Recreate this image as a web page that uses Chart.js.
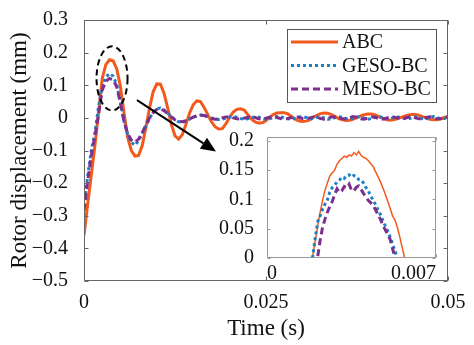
<!DOCTYPE html>
<html>
<head>
<meta charset="utf-8">
<script src="https://cdn.jsdelivr.net/npm/chart.js@4.4.1/dist/chart.umd.min.js"></script>
<style>
  html, body { margin: 0; padding: 0; background: #fff; }
  #wrap { position: relative; width: 474px; height: 345px; }
  #mainChart { position: absolute; left: 0; top: 0; }
  #zoomChart { position: absolute; left: 200px; top: 120px; }
</style>
</head>
<body>
<div id="wrap">
  <canvas id="mainChart" width="474" height="345"></canvas>
  <canvas id="zoomChart" width="245" height="165"></canvas>
</div>
<script>
var seriesNames = ["ABC", "GESO-BC", "MESO-BC"];
var colors = ["#f25a1d", "#1b7fc4", "#7e2f8e"];

// full run, one sample every 0.5 ms from t = 0 to 0.05 s
var dt = 0.0005;
var abc = [
  -0.360, -0.265, -0.175, -0.085, 0.015, 0.120, 0.163, 0.178, 0.175, 0.150,
  0.097, 0.015, -0.060, -0.100, -0.117, -0.115, -0.085, -0.030, 0.030, 0.080,
  0.104, 0.103, 0.075, 0.030, -0.020, -0.055, -0.065, -0.052, -0.020, 0.015,
  0.040, 0.052, 0.050, 0.032,
  0.010, -0.012, -0.027, -0.034, -0.033, -0.018, 0.002, 0.018, 0.026, 0.028,
  0.024, 0.010, -0.004, -0.012, -0.016, -0.015, -0.008, 0.002, 0.010, 0.015,
  0.016, 0.016, 0.012, 0.004, -0.004, -0.009, -0.011, -0.010, -0.006, 0.002,
  0.008, 0.013, 0.015, 0.014, 0.010, 0.004, -0.002, -0.006, -0.008, -0.007,
  -0.004, 0.001, 0.006, 0.010, 0.012, 0.012, 0.009, 0.004, -0.001, -0.005,
  -0.007, -0.006, -0.003, 0.001, 0.005, 0.008, 0.010, 0.010, 0.008, 0.004,
  0.000, -0.004, -0.006, -0.006, -0.003, 0.001, 0.004
];
var geso = [
  -0.270, -0.180, -0.100, -0.045, 0.035, 0.094, 0.125, 0.136, 0.128, 0.102,
  0.050, -0.010, -0.050, -0.075, -0.084, -0.070, -0.048, -0.025, -0.002, 0.018,
  0.028, 0.030, 0.024, 0.015, 0.004, -0.006, -0.012, -0.013, -0.010, -0.004,
  0.002, 0.007, 0.009, 0.008, 0.004,
  0.000, -0.003, -0.005, -0.004, -0.001, 0.002, 0.004, 0.002, -0.002, -0.004,
  -0.003, 0.001, 0.003, 0.002, -0.002, -0.005, -0.003, 0.001, 0.004, 0.003,
  0.000, -0.003, -0.004, -0.001, 0.002, 0.004, 0.001, -0.003, -0.002, 0.002,
  0.003, 0.000, -0.004, -0.003, 0.001, 0.004, 0.002, -0.002, -0.004, -0.001,
  0.003, 0.003, -0.001, -0.004, -0.002, 0.002, 0.004, 0.001, -0.003, -0.003,
  0.001, 0.003, 0.002, -0.002, -0.004, 0.000, 0.003, 0.002, -0.003, -0.003,
  0.001, 0.004, 0.001, -0.003, -0.002, 0.002
];
var meso = [
  -0.285, -0.195, -0.115, -0.055, 0.010, 0.085, 0.112, 0.121, 0.117, 0.095,
  0.045, -0.012, -0.048, -0.068, -0.075, -0.065, -0.045, -0.022, 0.000, 0.016,
  0.026, 0.028, 0.022, 0.013, 0.003, -0.006, -0.011, -0.012, -0.009, -0.003,
  0.002, 0.006, 0.008, 0.007, 0.003,
  -0.002, -0.004, -0.003, 0.000, 0.003, 0.003, 0.000, -0.003, -0.004, -0.001,
  0.002, 0.003, 0.001, -0.003, -0.004, -0.001, 0.002, 0.004, 0.001, -0.002,
  -0.004, -0.002, 0.001, 0.003, 0.002, -0.002, -0.003, 0.000, 0.003, 0.002,
  -0.002, -0.004, -0.001, 0.003, 0.003, 0.000, -0.003, -0.003, 0.001, 0.004,
  0.001, -0.003, -0.004, 0.000, 0.003, 0.002, -0.002, -0.004, -0.001, 0.002,
  0.003, 0.000, -0.003, -0.002, 0.002, 0.004, 0.000, -0.003, -0.002, 0.001,
  0.003, 0.001, -0.003, -0.003, 0.001, 0.003
];

// first peak at 0.1 ms resolution, t = 1.7 ms .. 5.8 ms
var zoomT0 = 0.0017;
var zoomDt = 0.0001;
var abcZoom = [
  -0.020, -0.005, 0.005, 0.030, 0.055, 0.078, 0.098, 0.115, 0.128, 0.140,
  0.145, 0.150, 0.160, 0.166, 0.170, 0.174, 0.172, 0.176, 0.174, 0.180,
  0.176, 0.182, 0.175, 0.172, 0.170, 0.166, 0.161, 0.156, 0.147, 0.139,
  0.130, 0.120, 0.109, 0.097, 0.085, 0.072, 0.065, 0.052, 0.036, 0.018,
  0.000, -0.015
];
var gesoZoom = [
  -0.030, -0.012, 0.004, 0.035, 0.062, 0.072, 0.083, 0.092, 0.099, 0.112,
  0.120, 0.124, 0.130, 0.133, 0.138, 0.136, 0.141, 0.142, 0.138, 0.141,
  0.139, 0.134, 0.133, 0.128, 0.120, 0.114, 0.106, 0.098, 0.091, 0.082,
  0.074, 0.064, 0.055, 0.046, 0.036, 0.024, 0.012, 0.000, -0.012, -0.022,
  -0.032, -0.042
];
var mesoZoom = [
  -0.070, -0.050, -0.032, -0.015, 0.002, 0.030, 0.052, 0.066, 0.078, 0.088,
  0.096, 0.108, 0.118, 0.112, 0.115, 0.122, 0.120, 0.126, 0.116, 0.114,
  0.121, 0.123, 0.117, 0.110, 0.104, 0.098, 0.094, 0.090, 0.082, 0.074,
  0.066, 0.056, 0.048, 0.040, 0.032, 0.016, 0.002, -0.012, -0.024, -0.034,
  -0.044, -0.054
];

var zoomXTicks = [0, 0.007];

// dashed ellipse round the first peak and the arrow towards the zoom box (data units)
var ring = { x: 0.00385, y: 0.121, rx: 0.00213, ry: 0.0985 };
var arrow = { x0: 0.00728, y0: 0.0545, x1: 0.01813, y1: -0.103 };

var serif = "'Liberation Serif', 'Times New Roman', serif";
Chart.defaults.font.family = serif;
Chart.defaults.color = "#111";

function fmt(v) {
  return String(+v.toFixed(4)).replace("-", "\u2212");
}

function toPoints(arr, t0, step) {
  return arr.map(function (v, i) {
    return { x: +(t0 + i * step).toFixed(5), y: v };
  });
}

var dashes = [[], [3, 3], [7, 4]];

function makeSets(lists, t0, step, firstWidth) {
  return lists.map(function (arr, k) {
    return {
      label: seriesNames[k],
      data: toPoints(arr, t0, step),
      borderColor: colors[k],
      borderWidth: k === 0 ? firstWidth : 3,
      borderDash: dashes[k],
      borderCapStyle: "butt",
      pointRadius: 0,
      tension: 0,
      order: 3 - k
    };
  });
}

// box round the plot with inward tick marks on all four sides
function framePlugin(tickLen, color) {
  return {
    id: "frame",
    beforeDraw: function (chart) {
      var a = chart.chartArea, ctx = chart.ctx;
      ctx.save();
      ctx.fillStyle = "#fff";
      ctx.fillRect(a.left, a.top, a.right - a.left, a.bottom - a.top);
      ctx.restore();
    },
    afterDatasetsDraw: function (chart) {
      var ctx = chart.ctx, a = chart.chartArea;
      var sx = chart.scales.x, sy = chart.scales.y;
      var l = Math.round(a.left) + 0.5, r = Math.round(a.right) - 0.5;
      var t = Math.round(a.top) + 0.5, b = Math.round(a.bottom) - 0.5;
      ctx.save();
      ctx.strokeStyle = color;
      ctx.lineWidth = 1;
      ctx.setLineDash([]);
      ctx.strokeRect(l, t, r - l, b - t);
      ctx.beginPath();
      sx.ticks.forEach(function (tk) {
        var px = Math.round(sx.getPixelForValue(tk.value)) + 0.5;
        ctx.moveTo(px, b); ctx.lineTo(px, b - tickLen);
        ctx.moveTo(px, t); ctx.lineTo(px, t + tickLen);
      });
      sy.ticks.forEach(function (tk) {
        var py = Math.round(sy.getPixelForValue(tk.value)) + 0.5;
        ctx.moveTo(l, py); ctx.lineTo(l + tickLen, py);
        ctx.moveTo(r, py); ctx.lineTo(r - tickLen, py);
      });
      ctx.stroke();
      ctx.restore();
    }
  };
}

var markPlugin = {
  id: "marks",
  afterDraw: function (chart) {
    var ctx = chart.ctx, sx = chart.scales.x, sy = chart.scales.y;
    ctx.save();
    // ellipse
    var cx = sx.getPixelForValue(ring.x), cy = sy.getPixelForValue(ring.y);
    var rx = sx.getPixelForValue(ring.x + ring.rx) - cx;
    var ry = cy - sy.getPixelForValue(ring.y + ring.ry);
    ctx.strokeStyle = "#000";
    ctx.lineWidth = 2;
    ctx.setLineDash([6, 4]);
    ctx.beginPath();
    ctx.ellipse(cx, cy, rx, ry, 0, 0, Math.PI * 2);
    ctx.stroke();
    // arrow
    var x0 = sx.getPixelForValue(arrow.x0), y0 = sy.getPixelForValue(arrow.y0);
    var x1 = sx.getPixelForValue(arrow.x1), y1 = sy.getPixelForValue(arrow.y1);
    var ang = Math.atan2(y1 - y0, x1 - x0), head = 15, half = 6.5;
    ctx.setLineDash([]);
    ctx.beginPath();
    ctx.moveTo(x0, y0);
    ctx.lineTo(x1 - head * Math.cos(ang), y1 - head * Math.sin(ang));
    ctx.stroke();
    ctx.fillStyle = "#000";
    ctx.beginPath();
    ctx.moveTo(x1, y1);
    ctx.lineTo(x1 - head * Math.cos(ang) + half * Math.sin(ang), y1 - head * Math.sin(ang) - half * Math.cos(ang));
    ctx.lineTo(x1 - head * Math.cos(ang) - half * Math.sin(ang), y1 - head * Math.sin(ang) + half * Math.cos(ang));
    ctx.closePath();
    ctx.fill();

    // legend box
    var bx = 287, by = 29, bw = 149, bh = 73;
    ctx.fillStyle = "#fff";
    ctx.fillRect(bx, by, bw, bh);
    ctx.strokeStyle = "#555";
    ctx.lineWidth = 1;
    ctx.strokeRect(bx + 0.5, by + 0.5, bw, bh);
    ctx.font = "20px " + serif;
    ctx.textBaseline = "middle";
    ctx.textAlign = "left";
    chart.data.datasets.forEach(function (ds, k) {
      var ly = 42 + k * 23.5;
      ctx.strokeStyle = ds.borderColor;
      ctx.lineWidth = 3;
      ctx.lineCap = "butt";
      ctx.setLineDash(ds.borderDash);
      ctx.beginPath();
      ctx.moveTo(291, ly);
      ctx.lineTo(338, ly);
      ctx.stroke();
      ctx.fillStyle = "#111";
      ctx.fillText(ds.label, 342, ly + 1);
    });
    ctx.restore();
  }
};

new Chart(document.getElementById("mainChart"), {
  type: "line",
  data: { datasets: makeSets([abc, geso, meso], 0, dt, 3) },
  options: {
    responsive: false,
    animation: false,
    layout: { padding: { top: 17, right: 26, left: 0, bottom: 0 } },
    plugins: { legend: { display: false }, tooltip: { enabled: false } },
    scales: {
      x: {
        type: "linear",
        min: 0,
        max: 0.05,
        grid: { display: false },
        border: { display: false },
        ticks: { stepSize: 0.025, padding: 2, font: { size: 20 }, color: "#111", callback: fmt, maxRotation: 0 },
        title: { display: true, text: "Time (s)", font: { size: 23 }, color: "#111", padding: { top: 0, bottom: 2 } },
        afterFit: function (s) { s.height = 64; }
      },
      y: {
        min: -0.5,
        max: 0.3,
        grid: { display: false },
        border: { display: false },
        ticks: { stepSize: 0.1, padding: 8, font: { size: 20 }, color: "#111", callback: fmt },
        title: { display: true, text: "Rotor displacement (mm)", font: { size: 23 }, color: "#111", padding: { top: 6, bottom: 0 } },
        afterFit: function (s) { s.width = 84; }
      }
    }
  },
  plugins: [framePlugin(4, "#666"), markPlugin]
});

new Chart(document.getElementById("zoomChart"), {
  type: "line",
  data: { datasets: makeSets([abcZoom, gesoZoom, mesoZoom], zoomT0, zoomDt, 1.5) },
  options: {
    responsive: false,
    animation: false,
    layout: { padding: { top: 12, right: 9, left: 0, bottom: 0 } },
    plugins: { legend: { display: false }, tooltip: { enabled: false } },
    scales: {
      x: {
        type: "linear",
        min: 0,
        max: 0.007,
        grid: { display: false },
        border: { display: false },
        afterBuildTicks: function (s) { s.ticks = zoomXTicks.map(function (v) { return { value: v }; }); },
        ticks: { align: "inner", padding: -4, font: { size: 20 }, color: "#111", callback: fmt, maxRotation: 0 },
        afterFit: function (s) { s.height = 27; }
      },
      y: {
        min: 0,
        max: 0.2066,
        grid: { display: false },
        border: { display: false },
        ticks: { stepSize: 0.05, includeBounds: false, padding: 5, font: { size: 20 }, color: "#111", callback: fmt },
        afterFit: function (s) { s.width = 67; }
      }
    }
  },
  plugins: [framePlugin(3, "#999")]
});
</script>
</body>
</html>
